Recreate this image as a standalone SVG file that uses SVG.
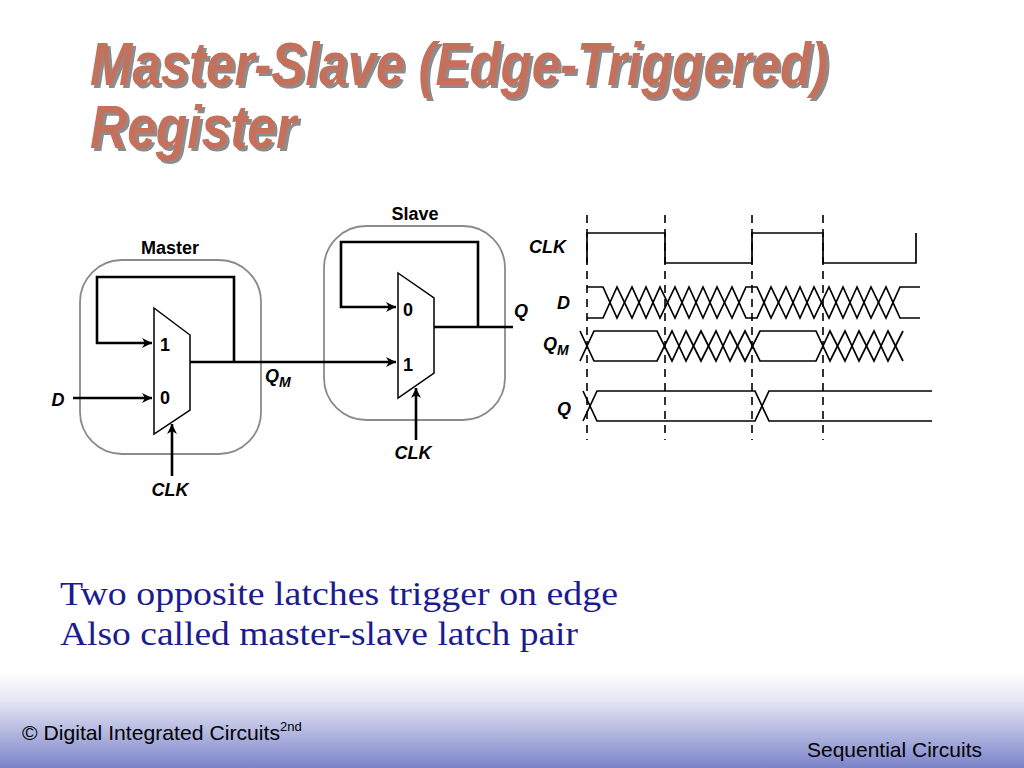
<svg xmlns="http://www.w3.org/2000/svg" width="1024" height="768" viewBox="0 0 1024 768">
<defs>
<linearGradient id="ft" x1="0" y1="0" x2="0" y2="1">
<stop offset="0" stop-color="#ffffff"/><stop offset="0.3" stop-color="#e4e6f4"/><stop offset="1" stop-color="#7b83c9"/>
</linearGradient>
<filter id="shd" x="-5%" y="-20%" width="115%" height="150%">
<feDropShadow dx="3" dy="3" stdDeviation="0.6" flood-color="#8c8c8c" flood-opacity="1"/>
</filter>
<marker id="ar" viewBox="0 0 10 10" refX="10" refY="5" markerWidth="10" markerHeight="10" markerUnits="userSpaceOnUse" orient="auto">
<path d="M0,0 L10,5 L0,10 L3,5 Z" fill="#000"/>
</marker>
<style>
.w{fill:none;stroke:#000;stroke-width:2.6}
.t{fill:none;stroke:#000;stroke-width:1.7}
.box{fill:#fff;stroke:#8a8a8a;stroke-width:1.8}
.mux{fill:#fff;stroke:#000;stroke-width:1.5}
.lb{font-family:"Liberation Sans",Arial,sans-serif;font-size:18px;fill:#000;font-weight:bold}
.it{font-style:italic}
.dash{stroke:#000;stroke-width:1.6;stroke-dasharray:8,6}
.title{font-family:"Liberation Sans",Arial,sans-serif;font-weight:bold;font-style:italic;font-size:62px;fill:#c46f5a}
.body{font-family:"Liberation Serif","Times New Roman",serif;font-size:33px;fill:#1c1c8f}
.ft{font-family:"Liberation Sans",Arial,sans-serif;font-size:21px;fill:#000}
.sup{font-size:13px}
</style>
</defs>
<rect width="1024" height="768" fill="#fff"/>
<rect x="0" y="672" width="1024" height="96" fill="url(#ft)"/>
<g id="title" filter="url(#shd)">
<text class="title" x="90" y="85" textLength="738" lengthAdjust="spacingAndGlyphs">Master-Slave (Edge-Triggered)</text>
<text class="title" x="90" y="148" textLength="206" lengthAdjust="spacingAndGlyphs">Register</text>
</g>
<g id="master">
<rect class="box" x="80" y="260" width="181" height="194" rx="42"/>
<text class="lb" x="170" y="254" text-anchor="middle">Master</text>
<polygon class="mux" points="154,308 190,335 190,410 154,434"/>
<text class="lb" x="160" y="351">1</text>
<text class="lb" x="160" y="404">0</text>
</g>
<g id="slave">
<rect class="box" x="324" y="226" width="181" height="194" rx="42"/>
<text class="lb" x="415" y="220" text-anchor="middle">Slave</text>
<polygon class="mux" points="398,273 434,298 434,373 398,398"/>
<text class="lb" x="403" y="316">0</text>
<text class="lb" x="403" y="371">1</text>
</g>
<g id="connectors">
<path class="w" d="M234,362 V277 H97 V343 H152" marker-end="url(#ar)"/>
<path class="w" d="M190,362 H396" marker-end="url(#ar)"/>
<path class="w" d="M73,398 H152" marker-end="url(#ar)"/>
<path class="w" d="M172,476 V424" marker-end="url(#ar)"/>
<path class="w" d="M478,327 V242 H341 V307 H396" marker-end="url(#ar)"/>
<path class="w" d="M434,327 H513"/>
<path class="w" d="M416,440 V388" marker-end="url(#ar)"/>
</g>
<g id="labels">
<text class="lb it" x="58" y="406" text-anchor="middle">D</text>
<text class="lb it" x="265" y="382">Q<tspan font-size="14" dy="5">M</tspan></text>
<text class="lb it" x="170" y="496" text-anchor="middle">CLK</text>
<text class="lb it" x="413" y="459" text-anchor="middle">CLK</text>
<text class="lb it" x="514" y="317">Q</text>
</g>
<g id="timing">
<line class="dash" x1="587" y1="215" x2="587" y2="440"/>
<line class="dash" x1="665" y1="215" x2="665" y2="440"/>
<line class="dash" x1="752" y1="215" x2="752" y2="440"/>
<line class="dash" x1="823" y1="215" x2="823" y2="440"/>
<path class="t" d="M587,263 V233 H665 V263 H752 V233 H823 V263 H916 V233"/>
<path class="t" d="M587,287 H603 L617,318 L632,287 L646,318 L660,287 L675,318 L689,287 L703,318 L717,287 L732,318 L746,287 H757 L771,318 L786,287 L800,318 L814,287 L829,318 L843,287 L857,318 L871,287 L886,318 L900,287 H920"/>
<path class="t" d="M587,318 H603 L617,287 L632,318 L646,287 L660,318 L675,287 L689,318 L703,287 L717,318 L732,287 L746,318 H757 L771,287 L786,318 L800,287 L814,318 L829,287 L843,318 L857,287 L871,318 L886,287 L900,318 H920"/>
<path class="t" d="M580,361 L594,331 H657 L672,361 L686,331 L701,361 L716,331 L730,361 L745,331 L760,361 H816 L830,331 L845,361 L859,331 L874,361 L888,331 L903,361"/>
<path class="t" d="M580,331 L594,361 H657 L672,331 L686,361 L701,331 L716,361 L730,331 L745,361 L760,331 H816 L830,361 L845,331 L859,361 L874,331 L888,361 L903,331"/>
<path class="t" d="M583,421 L597,391 H755 L769,421 H932"/>
<path class="t" d="M583,391 L597,421 H755 L769,391 H932"/>
<text class="lb it" x="529" y="253">CLK</text>
<text class="lb it" x="557" y="309">D</text>
<text class="lb it" x="543" y="350">Q<tspan font-size="14" dy="5">M</tspan></text>
<text class="lb it" x="557" y="415">Q</text>
</g>
<g id="body">
<text class="body" x="60" y="605" textLength="558" lengthAdjust="spacingAndGlyphs">Two opposite latches trigger on edge</text>
<text class="body" x="60" y="645" textLength="518" lengthAdjust="spacingAndGlyphs">Also called master-slave latch pair</text>
</g>
<g id="footer">
<text class="ft" x="22" y="740" textLength="258" lengthAdjust="spacingAndGlyphs">© Digital Integrated Circuits</text>
<text class="ft sup" x="280" y="731">2nd</text>
<text class="ft" x="982" y="757" text-anchor="end" textLength="175" lengthAdjust="spacingAndGlyphs">Sequential Circuits</text>
</g>
</svg>
